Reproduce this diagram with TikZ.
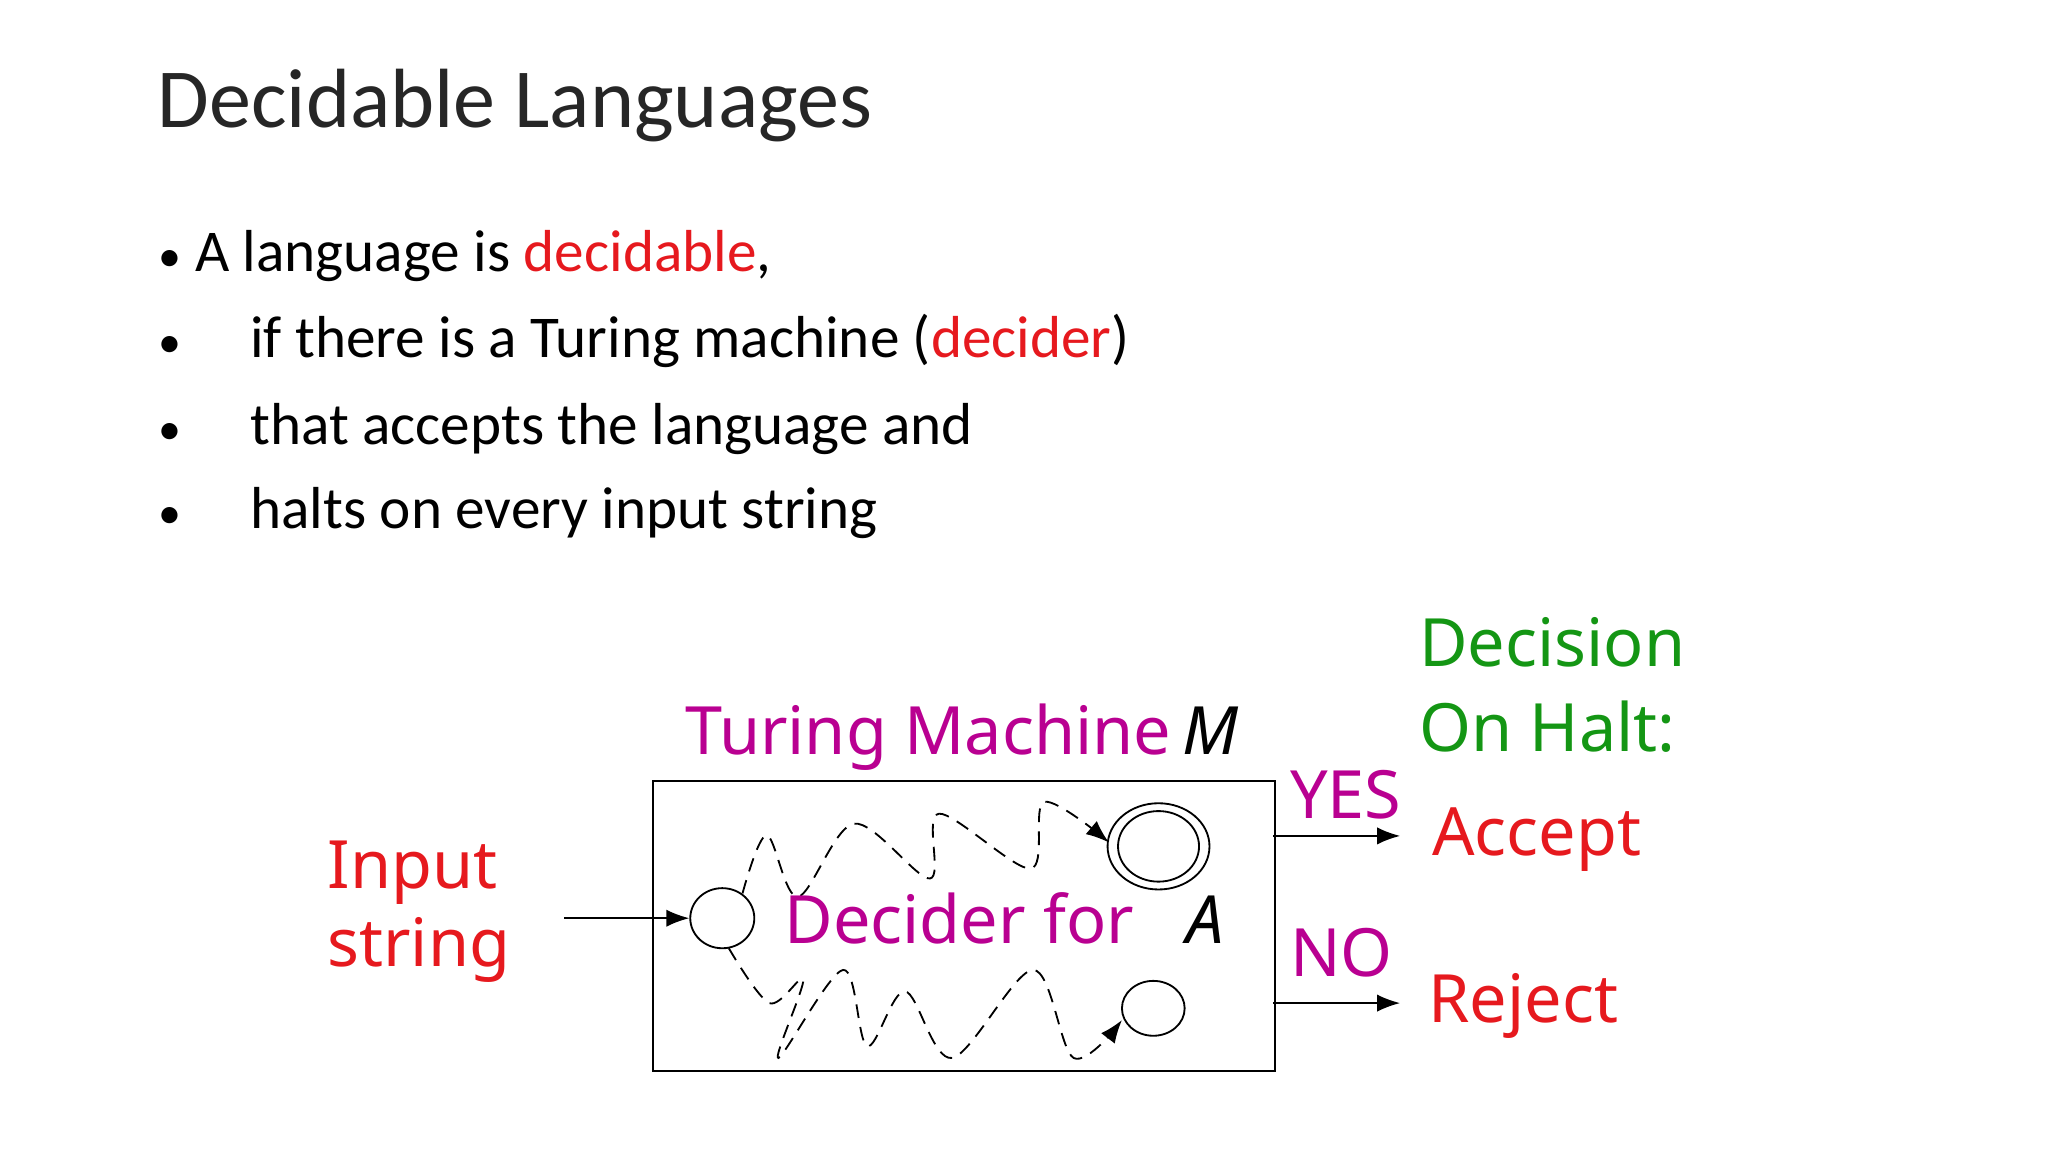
\documentclass[tikz,border=0pt]{standalone}
\usepackage{fontspec}
\setmainfont{Carlito}
\newfontfamily\diag{Noto Sans}
\usetikzlibrary{arrows.meta,shapes.geometric}
\definecolor{tmred}{RGB}{230,25,30}
\definecolor{tmmag}{RGB}{185,0,145}
\definecolor{tmgreen}{RGB}{20,150,20}
\newcommand{\bdot}{{\fontsize{10pt}{12pt}\selectfont •}}
\tikzset{
  bul/.style={anchor=base west,inner sep=0pt,font=\fontsize{12.9pt}{15pt}\selectfont},
  dl/.style={anchor=base west,inner sep=0pt,font=\diag\fontsize{14.5pt}{17pt}\selectfont},
  st/.style={draw,ellipse,inner sep=0pt,thin},
  wav/.style={densely dashed,thin,-{Latex[length=5pt]}},
  arr/.style={thin,-{Latex[length=5pt]}}
}
\begin{document}
\begin{tikzpicture}[x=0.01cm,y=-0.01cm]
\useasboundingbox (0,0) rectangle (1568,882);
\node[anchor=base west,inner sep=0pt,font=\fontsize{18.3pt}{22pt}\selectfont,text=black!85] (title) at (120,98) {Decidable Languages};
\node[bul] (b1) at (121,208) {\bdot\ A language is \textcolor{tmred}{decidable},};
\node[bul] (d2) at (121,274) {\bdot};
\node[bul] (b2) at (191,274) {if there is a Turing machine (\textcolor{tmred}{decider})};
\node[bul] (d3) at (121,340) {\bdot};
\node[bul] (b3) at (191,340) {that accepts the language and};
\node[bul] (d4) at (121,405) {\bdot};
\node[bul] (b4) at (191,405) {halts on every input string};
% diagram
\node[draw,thin,minimum width=4.76cm,minimum height=2.22cm,anchor=north west,inner sep=0pt] (box) at (499,597) {};
\node[st,minimum width=0.49cm,minimum height=0.46cm] (start) at (553,703) {};
\node[st,minimum width=0.78cm,minimum height=0.66cm] (acc) at (887,648) {};
\node[st,minimum width=0.62cm,minimum height=0.54cm] (accin) at (887,648) {};
\node[st,minimum width=0.48cm,minimum height=0.42cm] (rej) at (883,772) {};
\coordinate (in) at (432,703);
\draw[arr] (in) -- (start.west);
\coordinate (y0) at (975,640); \coordinate (y1) at (1072,640);
\coordinate (n0) at (975,768); \coordinate (n1) at (1072,768);
\draw[arr] (y0) -- (y1);
\draw[arr] (n0) -- (n1);
\draw[wav] plot[smooth,tension=0.55] coordinates{(568.5,684) (587,639.5) (611,686.6) (654,630.6) (712,672.6) (719,623) (789,665) (799.5,614) (849,645)};
\draw[wav] plot[smooth,tension=0.55] coordinates{(558,726) (589,768) (615,750) (596,810) (645.5,742.6) (664,801) (693,759) (729,810) (791,742.6) (822,810) (859,781)};
\node[dl,text=tmmag] (tm) at (524,578) {Turing Machine};
\node[dl] (mm) at (905,578) {\itshape M};
\node[dl,text=tmmag] (dec) at (600,722) {Decider for};
\node[dl] (aa) at (908,722) {\itshape A};
\node[dl,text=tmred] (inp) at (250,680) {Input};
\node[dl,text=tmred] (str) at (250,740) {string};
\node[dl,text=tmmag] (yes) at (987,627) {YES};
\node[dl,text=tmmag] (no) at (987,748) {NO};
\node[dl,text=tmgreen] (dcs) at (1086,510) {Decision};
\node[dl,text=tmgreen] (oh) at (1086,575) {On Halt:};
\node[dl,text=tmred] (acct) at (1096,655) {Accept};
\node[dl,text=tmred] (rejt) at (1093,783) {Reject};
\end{tikzpicture}
\end{document}
